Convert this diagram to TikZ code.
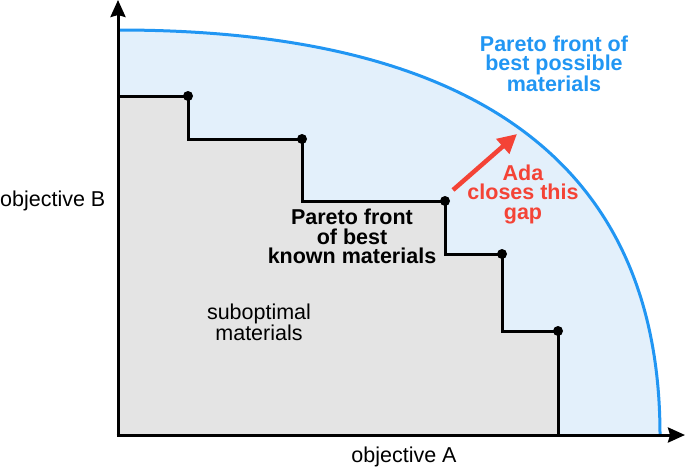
\documentclass[tikz,border=0pt]{standalone}
\usepackage{fontspec}
\setmainfont{Liberation Sans}
\usetikzlibrary{arrows.meta}
\definecolor{bluefill}{RGB}{227,240,251}
\definecolor{grayfill}{RGB}{228,228,228}
\definecolor{paretoblue}{RGB}{33,150,243}
\definecolor{adared}{RGB}{244,67,54}
\begin{document}
\begin{tikzpicture}[x=1pt,y=-1pt,
  lbl/.style={font=\fontsize{21.5}{19.5}\selectfont, align=center, inner sep=0pt},
  boldlbl/.style={lbl, font=\fontsize{21.5}{19.5}\selectfont\bfseries},
  dotnode/.style={circle, fill=black, inner sep=0pt, minimum size=10pt},
  axisline/.style={line width=3pt, -{Stealth[length=17pt,width=15pt,inset=2pt]}},
  stair/.style={line width=3pt, line join=miter},
  front/.style={paretoblue, line width=3pt},
  adaarrow/.style={adared, line width=4.5pt, -{Triangle[length=19pt,width=19pt]}},
  ]
\useasboundingbox (0,0) rectangle (685,466);
% axis coordinates
\coordinate (O) at (118,435);
\coordinate (ytip) at (118,0);
\coordinate (xtip) at (685,435);
\coordinate (ctop) at (118,30);
\coordinate (cbot) at (660,435);
% staircase coordinates
\coordinate (s0) at (118,96);
\coordinate (p1) at (188,96);
\coordinate (s1) at (188,139);
\coordinate (p2) at (302,139);
\coordinate (s2) at (302,201);
\coordinate (p3) at (445,201);
\coordinate (s3) at (445,254);
\coordinate (p4) at (502,254);
\coordinate (s4) at (502,331);
\coordinate (p5) at (558,331);
\coordinate (s5) at (558,435);
% fills
\fill[bluefill] (O) -- (ctop) .. controls (478,30) and (660,166) .. (cbot) -- cycle;
\fill[grayfill] (O) -- (s0) -- (p1) -- (s1) -- (p2) -- (s2) -- (p3) -- (s3) -- (p4) -- (s4) -- (p5) -- (s5) -- cycle;
% best possible front
\draw[front] (ctop) .. controls (478,30) and (660,166) .. (cbot);
% known front
\draw[stair] (s0) -- (p1) -- (s1) -- (p2) -- (s2) -- (p3) -- (s3) -- (p4) -- (s4) -- (p5) -- (s5);
% axes
\draw[axisline] ([yshift=1.5pt]O) -- (ytip);
\draw[axisline] ([xshift=-1.5pt]O) -- (xtip);
% dots
\foreach \p in {p1,p2,p3,p4,p5} \node[dotnode] (d\p) at (\p) {};
% labels
\node[boldlbl, text=paretoblue] (best) at (554,64) {Pareto front of\\best possible\\materials};
\node[boldlbl, text=adared] (ada) at (523,194) {Ada\\closes this\\gap};
\node[boldlbl] (known) at (352,236.5) {Pareto front\\of best\\known materials};
\node[lbl, font=\fontsize{21.5}{18.5}\selectfont] (sub) at (259,322) {suboptimal\\materials};
\node[lbl, anchor=base] (xlab) at (404,462) {objective A};
\node[lbl, anchor=base west] (ylab) at (0,206) {objective B};
% arrow
\coordinate (atail) at (453,190);
\coordinate (ahead) at (517,134);
\draw[adaarrow] (atail) -- (ahead);
\end{tikzpicture}
\end{document}
